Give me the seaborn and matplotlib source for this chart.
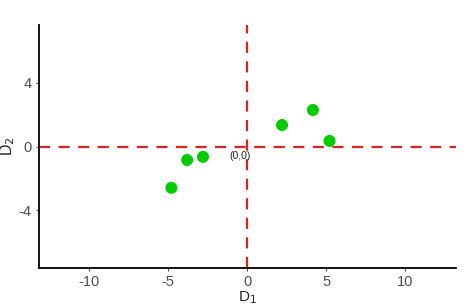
import matplotlib
matplotlib.use("Agg")
import matplotlib.pyplot as plt
import seaborn as sns
import pandas as pd

d1 = [-4.8, -3.8, -2.8, 2.2, 4.15, 5.2]
d2 = [-2.6, -0.85, -0.65, 1.35, 2.3, 0.35]
xticks = [-10, -5, 0, 5, 10]
yticks = [-4, 0, 4]

df = pd.DataFrame({"D1": d1, "D2": d2})

sns.set_theme(style="white")
plt.rcParams['font.family'] = ['Liberation Sans', 'DejaVu Sans']

fig = plt.figure(figsize=(4.74, 3.05), dpi=100)
ax = fig.add_axes([38.5/474, 1-268/305, (456-38.5)/474, (268-25)/305])

ax.axhline(0, color="#dd2222", ls=(0, (5, 3.8)), lw=1.6, zorder=1)
ax.axvline(0, color="#dd2222", ls=(0, (5, 3.8)), lw=1.6, zorder=1)
sns.scatterplot(data=df, x="D1", y="D2", ax=ax, color="#00cc00", s=75,
                edgecolor="none", zorder=3)
ax.text(-0.45, -0.6, "(0,0)", fontsize=7.5, color="#222222", ha="center", va="center")

ax.set_xlim(-13.2, 13.2)
ax.set_ylim(-7.65, 7.65)
ax.set_xticks(xticks)
ax.set_yticks(yticks)
ax.set_xticklabels([str(t) for t in xticks])
ax.set_yticklabels([str(t) for t in yticks])
ax.tick_params(axis="both", labelsize=10.5, colors="#4d4d4d", length=2.5, width=0.8,
               direction="out", bottom=True, left=True, pad=2.5)
for s in ["top", "right"]:
    ax.spines[s].set_visible(False)
for s in ["left", "bottom"]:
    ax.spines[s].set_color("black")
    ax.spines[s].set_linewidth(1.3)
ax.set_xlabel("D$_1$", fontsize=11)
ax.set_ylabel("D$_2$", fontsize=11.5, labelpad=1)
ax.xaxis.set_label_coords(0.5, -0.09, transform=None)
ax.xaxis.label.set_va("top")
ax.xaxis.set_label_coords(0.5, -0.088)
ax.grid(False)

fig.savefig("out.png", dpi=100)
